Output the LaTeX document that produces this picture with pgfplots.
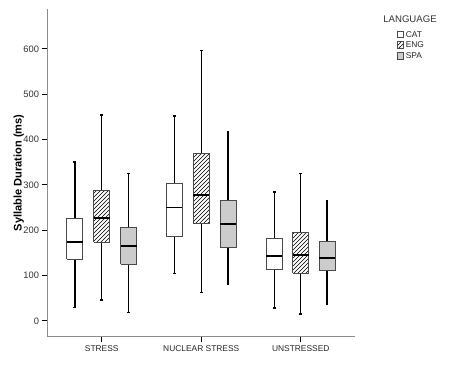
\documentclass[border=0pt]{standalone}
\usepackage{fontspec}
\setmainfont{Liberation Sans}
\usepackage{pgfplots}
\pgfplotsset{compat=1.18}
\usetikzlibrary{patterns}
\definecolor{edgegray}{HTML}{4A4A4A}
\definecolor{spagray}{HTML}{CCCCCC}
\definecolor{axisgray}{HTML}{8C8C8C}
\newcommand{\bx}[7]{% centre, lower whisker, q1, median, q3, upper whisker, box style
  \pgfmathsetmacro{\xl}{#1-0.08}%
  \pgfmathsetmacro{\xr}{#1+0.08}%
  \pgfmathsetmacro{\cl}{#1-0.014}%
  \pgfmathsetmacro{\cr}{#1+0.014}%
  \edef\doplots{%
  \noexpand\addplot[mark=none, black, line width=1.05pt] coordinates {(#1,#2) (#1,#3)};
  \noexpand\addplot[mark=none, black, line width=1.05pt] coordinates {(#1,#5) (#1,#6)};
  \noexpand\addplot[mark=none, black, line width=1.05pt] coordinates {(\cl,#2) (\cr,#2)};
  \noexpand\addplot[mark=none, black, line width=1.05pt] coordinates {(\cl,#6) (\cr,#6)};
  \noexpand\addplot[mark=none, draw=edgegray, line width=0.7pt, line join=miter, #7] coordinates {(\xl,#3) (\xr,#3) (\xr,#5) (\xl,#5) (\xl,#3)};
  \noexpand\addplot[mark=none, black, line width=1.4pt] coordinates {(\xl,#4) (\xr,#4)};
  }%
  \doplots}
\begin{document}
\begin{tikzpicture}
\path[use as bounding box, fill=white] (-35.78pt,-31.73pt) rectangle (319.72pt,252.52pt);
\begin{axis}[
  scale only axis, width=230.5pt, height=245.8pt,
  xmin=-0.543, xmax=2.546, ymin=-35, ymax=688,
  axis x line*=bottom, axis y line*=left,
  axis line style={axisgray, line width=0.6pt},
  xtick={0,1,2}, xticklabels={STRESS,NUCLEAR STRESS,UNSTRESSED},
  ytick={0,100,200,300,400,500,600},
  tick align=outside, tick pos=left,
  major tick length=4pt,
  tick style={black, line width=0.6pt},
  /pgf/number format/assume math mode=true,
  yticklabel style={font=\fontsize{7}{8}\selectfont, text=black!80, xshift=1pt},
  xticklabel style={font=\fontsize{6.3}{7}\selectfont, text=black!85, yshift=1pt},
  ylabel={\bfseries Syllable Duration (ms)},
  ylabel style={font=\fontsize{8.3}{9}\selectfont, at={(axis description cs:-0.094,0.5)}, anchor=center},
  clip=false,
]
% STRESS
\bx{-0.27}{29}{136}{174}{225}{350}{fill=white}
\bx{0}{46}{173}{227}{287}{454}{pattern=north east lines}
\bx{0.27}{19}{125}{165}{206}{325}{fill=spagray}
% NUCLEAR STRESS
\bx{0.73}{104}{186}{250}{303}{452}{fill=white}
\bx{1}{63}{214}{278}{369}{596}{pattern=north east lines}
\bx{1.27}{81}{161}{214}{266}{418}{fill=spagray}
% UNSTRESSED
\bx{1.735}{28}{113}{143}{182}{284}{fill=white}
\bx{2}{15}{105}{145}{195}{325}{pattern=north east lines}
\bx{2.265}{37}{112}{138}{174}{265}{fill=spagray}
\end{axis}
% legend (pixel positions of the reference converted to pt, origin at the axis corner)
\begin{scope}[shift={(-35.78pt,252.52pt)}, x=0.75pt, y=-0.75pt]
  \node[font=\fontsize{7.2}{8}\selectfont, text=black!80] at (410,19) {LANGUAGE};
  \draw[draw=edgegray, line width=0.5pt, fill=white] (397,31) rectangle (403.5,37.5);
  \draw[draw=edgegray, line width=0.5pt, pattern=north east lines] (397,41.5) rectangle (403.5,48);
  \draw[draw=edgegray, line width=0.5pt, fill=spagray] (397,52.5) rectangle (403.5,59);
  \node[font=\fontsize{6.3}{7}\selectfont, text=black!85, anchor=west, inner sep=0pt] at (405.5,34.2) {CAT};
  \node[font=\fontsize{6.3}{7}\selectfont, text=black!85, anchor=west, inner sep=0pt] at (405.5,44.7) {ENG};
  \node[font=\fontsize{6.3}{7}\selectfont, text=black!85, anchor=west, inner sep=0pt] at (405.5,55.7) {SPA};
\end{scope}
\end{tikzpicture}
\end{document}
